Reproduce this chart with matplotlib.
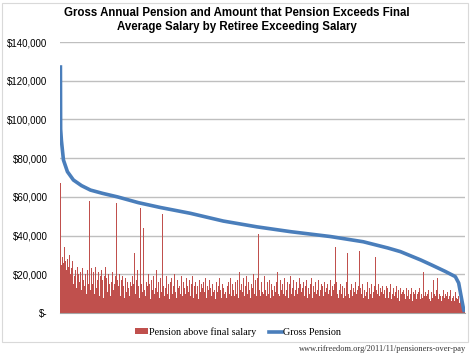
import numpy as np
import matplotlib.pyplot as plt
from matplotlib.patches import Patch, Rectangle
from matplotlib.lines import Line2D
from matplotlib.ticker import FuncFormatter

# amount pension exceeds final average salary, $ thousands, one bar per retiree
excess = [
    67, 25, 29, 24, 26, 34, 27, 22, 28, 18, 24, 30, 20, 23, 27, 15, 26, 19, 22, 13, 24, 20, 28, 16,
    21, 12, 23, 17, 25, 14, 20, 10, 22, 15, 58, 19, 12, 23, 15, 21, 10, 18, 24, 13, 17, 21, 9, 19,
    14, 22, 17, 8, 19, 24, 13, 18, 11, 20, 15, 9, 18, 16, 21, 12, 15, 19, 57, 10, 17, 14, 20, 9,
    17, 12, 19, 14, 8, 18, 11, 16, 20, 13, 9, 16, 14, 19, 11, 15, 31, 10, 17, 22, 12, 14, 8, 54,
    15, 11, 44, 18, 12, 9, 16, 14, 20, 10, 15, 7, 17, 12, 19, 10, 15, 13, 22, 11, 16, 8, 14, 18,
    11, 51, 14, 9, 17, 13, 19, 10, 15, 7, 16, 12, 18, 10, 14, 20, 11, 15, 8, 17, 13, 14, 10, 19,
    12, 9, 16, 13, 10, 18, 8, 14, 11, 17, 9, 15, 13, 19, 8, 14, 16, 10, 14, 12, 7, 17, 11, 15,
    13, 9, 16, 11, 18, 8, 14, 12, 10, 17, 13, 9, 15, 11, 19, 12, 7, 16, 11, 14, 9, 18, 12, 8,
    15, 13, 10, 17, 11, 8, 14, 16, 10, 13, 18, 9, 15, 12, 9, 16, 13, 10, 17, 8, 21, 12, 10, 15,
    11, 18, 9, 14, 12, 19, 10, 16, 12, 8, 15, 41, 13, 20, 10, 17, 9, 14, 18, 41, 12, 9, 16, 11,
    14, 10, 19, 12, 9, 16, 13, 10, 17, 8, 15, 12, 18, 9, 14, 11, 16, 21, 10, 13, 9, 17, 12, 15,
    10, 14, 18, 9, 12, 16, 8, 15, 11, 19, 10, 13, 17, 9, 14, 12, 16, 10, 13, 18, 8, 15, 11, 13,
    16, 9, 14, 12, 17, 8, 13, 10, 15, 12, 18, 8, 14, 11, 16, 10, 13, 12, 17, 9, 12, 15, 10, 14,
    9, 16, 11, 13, 8, 15, 10, 12, 17, 9, 14, 10, 12, 15, 34, 16, 10, 13, 8, 12, 15, 10, 14, 8,
    11, 13, 9, 16, 31, 10, 14, 8, 12, 15, 9, 13, 7, 11, 16, 10, 12, 14, 32, 9, 13, 10, 15, 8,
    12, 14, 9, 11, 16, 7, 13, 10, 12, 15, 8, 11, 14, 29, 8, 12, 10, 15, 9, 13, 7, 11, 14, 10,
    12, 8, 14, 10, 13, 8, 11, 15, 7, 12, 10, 13, 9, 11, 14, 8, 10, 12, 6, 13, 10, 11, 8, 12,
    10, 7, 13, 9, 11, 12, 7, 10, 13, 6, 11, 8, 10, 12, 7, 10, 11, 9, 13, 7, 10, 8, 21, 9,
    7, 11, 9, 10, 12, 7, 9, 6, 11, 8, 17, 10, 7, 9, 12, 18, 7, 10, 9, 11, 6, 9, 12, 8,
    10, 6, 9, 11, 7, 9, 12, 6, 10, 8, 9, 6, 11, 8, 15, 7, 9, 5, 8, 10, 4, 6, 3, 2,
]

# gross pension read at selected retirees (index into the sorted list), $ thousands
gross_idx = [0, 0.25, 1.2, 3.6, 8.3, 15.4, 25, 35.6, 50, 67.5, 92.4, 118.5, 154, 193, 233,
             273, 320, 359, 388, 403, 427, 440, 456, 468, 472, 475, 478, 479]
gross_val = [128, 95, 89, 79, 73, 68.7, 65.8, 63.5, 61.8, 60, 57, 54.5, 51.5, 47.5, 44.5,
             42, 39.5, 36.8, 33.6, 31.7, 27.4, 24.8, 21.5, 18.8, 15.5, 8.4, 1.5, 0.5]

yticks = [0, 20000, 40000, 60000, 80000, 100000, 120000, 140000]

red = '#c0504d'
blue = '#4a7ebb'

fig = plt.figure(figsize=(4.74, 3.55), dpi=100)
ax = fig.add_axes([60 / 474, 42 / 355, 405 / 474, 271 / 355])

edges = np.arange(len(excess) + 1) - 0.5
ax.stairs(np.array(excess) * 1000, edges, fill=True, color=red, linewidth=0)
ax.plot(gross_idx, np.array(gross_val) * 1000, color=blue, linewidth=2.6,
        solid_capstyle='butt', solid_joinstyle='round')

ax.set_xlim(-0.5, len(excess) - 0.5)
ax.set_ylim(0, 140000)
ax.set_yticks(yticks)
ax.yaxis.set_major_formatter(FuncFormatter(lambda v, p: '$-' if v == 0 else f'${v:,.0f}'))
ax.set_xticks([])
ax.tick_params(axis='y', length=0, pad=9, labelsize=7)
for lbl in ax.get_yticklabels():
    lbl.set_family('Liberation Sans')
ax.grid(axis='y', color='#bfbfbf', linewidth=1.0)
ax.set_axisbelow(True)
for s in ['top', 'right', 'left']:
    ax.spines[s].set_visible(False)
ax.spines['bottom'].set_color('#a6a6a6')

fig.text(0.5, 1 - 20 / 355, 'Gross Annual Pension and Amount that Pension Exceeds Final\n'
         'Average Salary by Retiree Exceeding Salary',
         ha='center', va='center', fontsize=8.3, fontweight='bold',
         family='Liberation Sans', linespacing=1.15)

handles = [Patch(facecolor=red, edgecolor='none'),
           Line2D([], [], color=blue, linewidth=2.6)]
fig.legend(handles, ['Pension above final salary', 'Gross Pension'],
           loc='center', bbox_to_anchor=(238 / 474, 1 - 332 / 355), ncol=2,
           frameon=False, prop={'family': 'Liberation Serif', 'size': 7.3},
           handlelength=1.3, handleheight=0.5, handletextpad=0.15, columnspacing=1.2)

# outer chart border
fig.patches.append(Rectangle((2 / 474, 1 - 342 / 355), 466 / 474, 339 / 355,
                             transform=fig.transFigure, fill=False,
                             edgecolor='#d9d9d9', linewidth=0.8))

fig.text(466 / 474, 1 - 349 / 355, 'www.rifreedom.org/2011/11/pensioners-over-pay',
         ha='right', va='center', fontsize=6, family='Liberation Serif', color='#333333')

fig.savefig('out.png', dpi=100)
